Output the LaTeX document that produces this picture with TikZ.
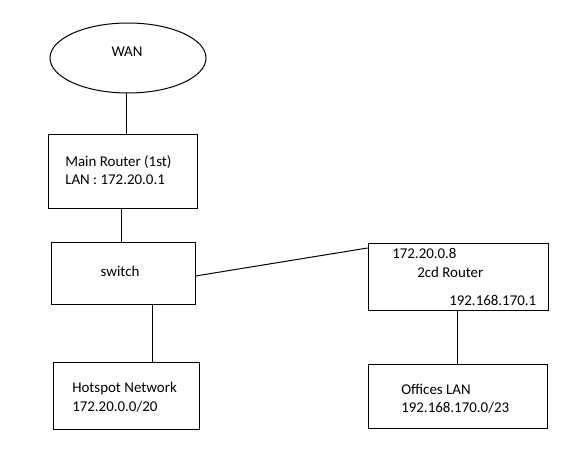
\documentclass[tikz,border=0pt]{standalone}
\usepackage{fontspec}
\setmainfont{Carlito}
\usetikzlibrary{shapes.geometric}
\begin{document}
\begin{tikzpicture}[x=0.75pt,y=-0.75pt,
  every node/.style={font=\fontsize{11.2}{13}\selectfont},
  box/.style={draw,rectangle,inner sep=0pt,line width=0.75pt},
  lbl/.style={inner sep=0pt,anchor=mid west},
  conn/.style={line width=0.75pt}]
\useasboundingbox[fill=white] (0,0) rectangle (581,449);
% shapes
\node[draw,ellipse,line width=0.75pt,minimum width=117pt,minimum height=52.5pt,inner sep=0pt] (wan) at (128,58) {};
\node[box,minimum width=111.75pt,minimum height=54.75pt] (main) at (122.5,171.5) {};
\node[box,minimum width=108pt,minimum height=46.5pt] (switch) at (123,273) {};
\node[box,minimum width=135pt,minimum height=50.25pt] (router) at (458,276.5) {};
\node[box,minimum width=109.5pt,minimum height=50.25pt] (hotspot) at (126,395.5) {};
\node[box,minimum width=134.25pt,minimum height=48pt] (offices) at (457.5,396) {};
% texts
\node[inner sep=0pt,anchor=mid] (twan) at (127,53) {WAN};
\node[lbl] (tmain1) at (65,163) {Main Router (1st)};
\node[lbl] (tmain2) at (65,181) {LAN : 172.20.0.1};
\node[inner sep=0pt,anchor=mid] (tswitch) at (120,273) {switch};
\node[lbl] (tr1) at (392,255) {172.20.0.8};
\node[lbl] (tr2) at (417,274) {2cd Router};
\node[lbl] (tr3) at (449,302) {192.168.170.1};
\node[lbl] (th1) at (72,389) {Hotspot Network};
\node[lbl] (th2) at (72,408) {172.20.0.0/20};
\node[lbl] (to1) at (401,391) {Offices LAN};
\node[lbl] (to2) at (401,409) {192.168.170.0/23};
% connectors
\draw[conn] (wan.south -| 126,0) -- (main.north -| 126,0);
\draw[conn] (main.south -| 121,0) -- (switch.north -| 121,0);
\draw[conn] (switch.east |- 0,276) -- (router.west |- 0,248);
\draw[conn] (switch.south -| 152,0) -- (hotspot.north -| 152,0);
\draw[conn] (router.south -| 457,0) -- (offices.north -| 457,0);
\end{tikzpicture}
\end{document}
